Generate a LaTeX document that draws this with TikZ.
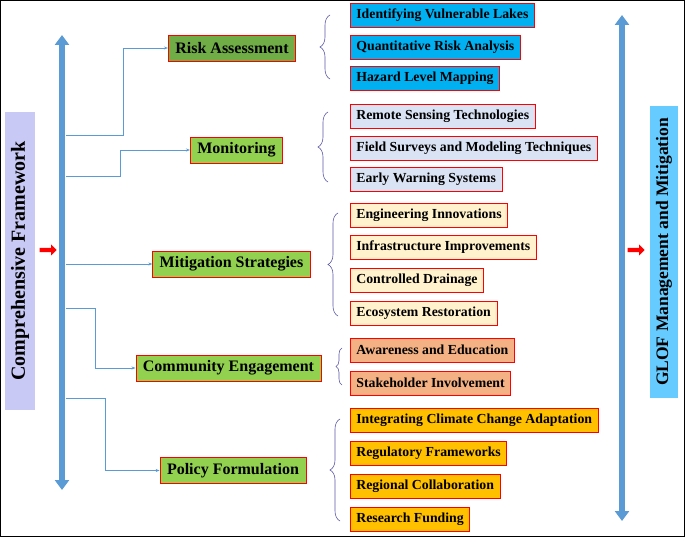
\documentclass[tikz,border=0pt]{standalone}
\usepackage{fontspec}
\setmainfont{Liberation Serif}
\usetikzlibrary{arrows.meta,shapes.arrows,decorations.pathreplacing}
\definecolor{barblue}{HTML}{5B9BD5}
\definecolor{mgreen}{HTML}{92D050}
\definecolor{dgreen}{HTML}{70AD47}
\definecolor{sblue}{HTML}{00B0F0}
\definecolor{slav}{HTML}{DAE3F3}
\definecolor{scream}{HTML}{FFF2CC}
\definecolor{ssalmon}{HTML}{F4B183}
\definecolor{sorange}{HTML}{FFC000}
\definecolor{lbox}{HTML}{C9C9F5}
\definecolor{rbox}{HTML}{66CCFF}
\definecolor{conn}{HTML}{5B9BD5}
\begin{document}
\begin{tikzpicture}[x=1pt,y=-1pt,
  mainbox/.style={draw=red,line width=0.8pt,fill=mgreen,font=\fontsize{16}{18}\selectfont\bfseries,minimum height=26pt,inner xsep=7pt},
  subbox/.style={draw=red,line width=0.7pt,anchor=west,font=\fontsize{13.8}{15}\selectfont\bfseries,minimum height=24pt,inner xsep=6pt},
  bigarrow/.style={line width=6pt,barblue,{Triangle[width=14pt,length=10pt]}-{Triangle[width=14pt,length=10pt]}},
  redarrow/.style={single arrow,fill=red,minimum height=17pt,minimum width=11pt,single arrow head extend=2pt,inner sep=1pt},
  conline/.style={conn,line width=0.6pt,-{Stealth[length=4pt,width=3pt]}},
  bracestyle/.style={decorate,decoration={brace,amplitude=10pt},draw=gray!70!blue,line width=0.6pt}]
\useasboundingbox (0,0) rectangle (685,537);
\draw[black,line width=0.8pt] (0.5,0.5) rectangle (684.5,536.5);
% side boxes
\node[fill=lbox,rotate=90,minimum width=297pt,minimum height=30pt,font=\fontsize{20}{22}\selectfont\bfseries] (left) at (20,261) {Comprehensive Framework};
\node[fill=rbox,rotate=90,minimum width=291pt,minimum height=28pt,font=\fontsize{17.5}{19}\selectfont\bfseries] (right) at (664,252) {GLOF Management and Mitigation};
\node[redarrow] (ra1) at (47,250) {};
\node[redarrow] (ra2) at (635,250) {};
\coordinate (lt) at (62,35); \coordinate (lb) at (62,490);
\coordinate (rt) at (622,15); \coordinate (rb) at (622,521);
\draw[bigarrow] (lt) -- (lb);
\draw[bigarrow] (rt) -- (rb);
% main nodes
\node[mainbox,fill=dgreen] (risk) at (232,48) {Risk Assessment};
\node[mainbox] (mon) at (236.5,150) {Monitoring};
\node[mainbox] (mit) at (231.5,264) {Mitigation Strategies};
\node[mainbox] (com) at (228.5,368) {Community Engagement};
\node[mainbox] (pol) at (233,470.5) {Policy Formulation};
\coordinate (c1) at (66,135); \coordinate (c2) at (66,176); \coordinate (c3) at (66,264);
\coordinate (c4) at (66,308); \coordinate (c5) at (66,398);
\draw[conline] (c1) -- (123,135) -- (123,48) -- (risk.west);
\draw[conline] (c2) -- (120,176) -- (120,150) -- (mon.west);
\draw[conline] (c3) -- (mit.west);
\draw[conline] (c4) -- (95,308) -- (95,368) -- (com.west);
\draw[conline] (c5) -- (105,398) -- (105,470.5) -- (pol.west);
% sub items
\node[subbox,fill=sblue] (r1) at (350,15) {Identifying Vulnerable Lakes};
\node[subbox,fill=sblue] (r2) at (350,47) {Quantitative Risk Analysis};
\node[subbox,fill=sblue] (r3) at (350,78.5) {Hazard Level Mapping};
\node[subbox,fill=slav] (m1) at (350,116) {Remote Sensing Technologies};
\node[subbox,fill=slav] (m2) at (350,148) {Field Surveys and Modeling Techniques};
\node[subbox,fill=slav] (m3) at (350,179) {Early Warning Systems};
\node[subbox,fill=scream] (s1) at (350,215) {Engineering Innovations};
\node[subbox,fill=scream] (s2) at (350,247.5) {Infrastructure Improvements};
\node[subbox,fill=scream] (s3) at (350,280.5) {Controlled Drainage};
\node[subbox,fill=scream] (s4) at (350,313.5) {Ecosystem Restoration};
\node[subbox,fill=ssalmon] (e1) at (350,350) {Awareness and Education};
\node[subbox,fill=ssalmon] (e2) at (350,383) {Stakeholder Involvement};
\node[subbox,fill=sorange] (p1) at (350,420.5) {Integrating Climate Change Adaptation};
\node[subbox,fill=sorange] (p2) at (350,453.5) {Regulatory Frameworks};
\node[subbox,fill=sorange] (p3) at (350,486.5) {Regional Collaboration};
\node[subbox,fill=sorange] (p4) at (350,519) {Research Funding};
% braces
\draw[bracestyle] (330,79) -- (330,15);
\draw[bracestyle] (328,182) -- (328,112);
\draw[bracestyle] (338,316) -- (338,213);
\draw[bracestyle,decoration={brace,amplitude=6pt}] (342,385) -- (342,348);
\draw[bracestyle] (340,521) -- (340,419);
\end{tikzpicture}
\end{document}
